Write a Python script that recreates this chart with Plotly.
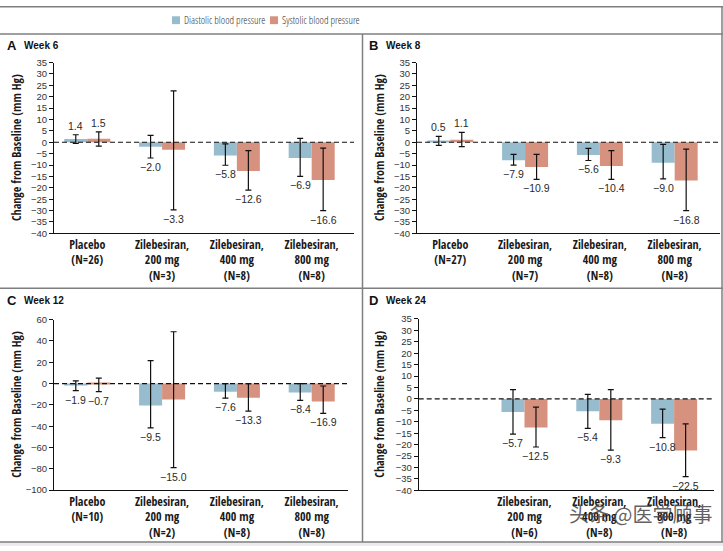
import plotly.graph_objects as go

# ---------------- data ----------------
cats = ["Placebo", "200 mg", "400 mg", "800 mg"]

a_ticks = ["Placebo<br>(N=26)", "Zilebesiran,<br>200 mg<br>(N=3)", "Zilebesiran,<br>400 mg<br>(N=8)", "Zilebesiran,<br>800 mg<br>(N=8)"]
a_dia = [1.4, -2.0, -5.8, -6.9]
a_sys = [1.5, -3.3, -12.6, -16.6]
a_dia_lo = [-0.5, -6.9, -10.1, -15.0]
a_dia_hi = [3.3, 3.0, -0.7, 1.7]
a_sys_lo = [-1.7, -29.7, -21.0, -30.0]
a_sys_hi = [4.6, 22.6, -3.7, -2.6]

b_ticks = ["Placebo<br>(N=27)", "Zilebesiran,<br>200 mg<br>(N=7)", "Zilebesiran,<br>400 mg<br>(N=8)", "Zilebesiran,<br>800 mg<br>(N=8)"]
b_dia = [0.5, -7.9, -5.6, -9.0]
b_sys = [1.1, -10.9, -10.4, -16.8]
b_dia_lo = [-1.4, -10.0, -8.0, -16.1]
b_dia_hi = [2.6, -5.3, -2.7, -0.9]
b_sys_lo = [-1.9, -16.3, -16.3, -30.0]
b_sys_hi = [4.3, -5.3, -3.7, -3.0]

c_ticks = ["Placebo<br>(N=10)", "Zilebesiran,<br>200 mg<br>(N=2)", "Zilebesiran,<br>400 mg<br>(N=8)", "Zilebesiran,<br>800 mg<br>(N=8)"]
c_dia = [-1.9, -20.7, -7.6, -8.4]          # bar heights as drawn
c_dia_text = ["−1.9", "−9.5", "−7.6", "−8.4"]  # printed labels
c_sys = [-0.7, -15.0, -13.3, -16.9]
c_dia_lo = [-6.6, -41.5, -13.6, -15.8]
c_dia_hi = [2.6, 21.6, 0.0, 0.0]
c_sys_lo = [-7.5, -78.9, -25.9, -28.0]
c_sys_hi = [5.1, 48.6, 0.0, -2.3]

d_ticks = ["", "Zilebesiran,<br>200 mg<br>(N=6)", "Zilebesiran,<br>400 mg<br>(N=8)", "Zilebesiran,<br>800 mg<br>(N=8)"]
d_dia = [None, -5.7, -5.4, -10.8]
d_sys = [None, -12.5, -9.3, -22.5]
d_dia_lo = [None, -15.4, -12.9, -16.9]
d_dia_hi = [None, 4.1, 2.0, -4.4]
d_sys_lo = [None, -21.0, -22.4, -34.0]
d_sys_hi = [None, -3.6, 4.1, -10.9]

# ---------------- style ----------------
W, H = 723, 551
BLUE = "#96bccd"
SALMON = "#d6917f"
FRAME = "#7f7f7f"
COND = "Open Sans Condensed, Liberation Sans, sans-serif"
LIGHT = "Open Sans Condensed Light, Liberation Sans, sans-serif"
SANS = "Liberation Sans, Arial, sans-serif"


def fx(x):
    return x / W


def fy(y):
    return 1 - y / H


def fmt(v):
    s = f"{abs(v):.1f}"
    return ("−" + s) if v < 0 else s


panels = [
    dict(letter="A", week="Week 6", ticks=a_ticks, dia=a_dia, sys=a_sys,
         dlo=a_dia_lo, dhi=a_dia_hi, slo=a_sys_lo, shi=a_sys_hi,
         dtext=[fmt(v) for v in a_dia], stext=[fmt(v) for v in a_sys],
         xd=(54, 354), yd=(57.7, 232), yr=(-40, 35), dt=5, xr=(-0.445, 3.566),
         lx=5, ly=40, tx=17),
    dict(letter="B", week="Week 8", ticks=b_ticks, dia=b_dia, sys=b_sys,
         dlo=b_dia_lo, dhi=b_dia_hi, slo=b_sys_lo, shi=b_sys_hi,
         dtext=[fmt(v) for v in b_dia], stext=[fmt(v) for v in b_sys],
         xd=(417, 720), yd=(57.7, 232), yr=(-40, 35), dt=5, xr=(-0.445, 3.606),
         lx=367, ly=40, tx=380),
    dict(letter="C", week="Week 12", ticks=c_ticks, dia=c_dia, sys=c_sys,
         dlo=c_dia_lo, dhi=c_dia_hi, slo=c_sys_lo, shi=c_sys_hi,
         dtext=c_dia_text, stext=[fmt(v) for v in c_sys],
         xd=(54, 348), yd=(320, 494), yr=(-100, 60), dt=20, xr=(-0.445, 3.485),
         lx=5, ly=301, tx=17),
    dict(letter="D", week="Week 24", ticks=d_ticks, dia=d_dia, sys=d_sys,
         dlo=d_dia_lo, dhi=d_dia_hi, slo=d_sys_lo, shi=d_sys_hi,
         dtext=[fmt(v) if v is not None else "" for v in d_dia],
         stext=[fmt(v) if v is not None else "" for v in d_sys],
         xd=(418.7, 714), yd=(319.3, 494.3), yr=(-40, 35), dt=5, xr=(-0.414, 3.533),
         lx=367, ly=301, tx=380),
]

fig = go.Figure()
annotations = []
shapes = []
layout = {}


def err(vals, lo, hi):
    plus, minus = [], []
    for v, l, h in zip(vals, lo, hi):
        if v is None:
            plus.append(None)
            minus.append(None)
        else:
            plus.append(h - v)
            minus.append(v - l)
    return plus, minus


for i, p in enumerate(panels):
    n = "" if i == 0 else str(i + 1)
    xa, ya = "x" + n, "y" + n
    for vals, lo, hi, col, texts, shift in (
        (p["dia"], p["dlo"], p["dhi"], BLUE, p["dtext"], -11.5),
        (p["sys"], p["slo"], p["shi"], SALMON, p["stext"], 11.5),
    ):
        plus, minus = err(vals, lo, hi)
        fig.add_trace(go.Bar(
            x=cats, y=vals, marker=dict(color=col, line=dict(width=0)),
            error_y=dict(type="data", symmetric=False, array=plus, arrayminus=minus,
                         width=3, thickness=1.2, color="#111111"),
            xaxis=xa, yaxis=ya, showlegend=False, hoverinfo="skip",
        ))
        for c, v, l, h, t in zip(cats, vals, lo, hi, texts):
            if v is None:
                continue
            up = v >= 0
            annotations.append(dict(x=c, y=h if up else l, xref=xa, yref=ya, text=t,
                                    showarrow=False, xshift=shift, yshift=1 if up else -1,
                                    yanchor="bottom" if up else "top",
                                    font=dict(family=SANS, size=10.5, color="#2a2a2a")))
    layout["xaxis" + n] = dict(
        domain=[fx(p["xd"][0]), fx(p["xd"][1])], anchor=ya, type="category",
        categoryorder="array", categoryarray=cats, range=list(p["xr"]),
        tickvals=cats, ticktext=p["ticks"], ticks="", showline=True,
        linecolor="#111111", linewidth=1, showgrid=False, zeroline=False,
        tickfont=dict(family=COND, size=12, color="#1a1a1a"), fixedrange=True,
    )
    layout["yaxis" + n] = dict(
        domain=[fy(p["yd"][1]), fy(p["yd"][0])], anchor=xa, range=list(p["yr"]),
        dtick=p["dt"], tick0=0, ticks="outside", ticklen=4, tickwidth=1,
        tickcolor="#111111", showline=True, linecolor="#111111", linewidth=1,
        showgrid=False, zeroline=False,
        tickfont=dict(family=SANS, size=9.5, color="#333333"), fixedrange=True,
    )
    shapes.append(dict(type="line", xref=xa + " domain", yref=ya, x0=0, x1=1, y0=0, y1=0,
                       line=dict(color="#111111", width=1.2, dash="5px,3px")))
    annotations.append(dict(x=fx(p["lx"]), y=fy(p["ly"]), xref="paper", yref="paper",
                            text="<b>" + p["letter"] + "</b>", showarrow=False,
                            xanchor="left", yanchor="middle",
                            font=dict(family=SANS, size=13, color="#111111")))
    annotations.append(dict(x=fx(p["lx"] + 17), y=fy(p["ly"]), xref="paper", yref="paper",
                            text="<b>" + p["week"] + "</b>", showarrow=False,
                            xanchor="left", yanchor="middle",
                            font=dict(family=SANS, size=10, color="#111111")))
    annotations.append(dict(x=fx(p["tx"]), y=fy((p["yd"][0] + p["yd"][1]) / 2),
                            xref="paper", yref="paper",
                            text="Change from Baseline (mm Hg)", showarrow=False,
                            textangle=-90, xanchor="center", yanchor="middle",
                            font=dict(family=COND, size=12, color="#1a1a1a")))

# legend (manual)
for x0, col, label in ((172, BLUE, "Diastolic blood pressure"), (270, SALMON, "Systolic blood pressure")):
    shapes.append(dict(type="rect", xref="paper", yref="paper", x0=fx(x0), x1=fx(x0 + 8),
                       y0=fy(18.5), y1=fy(10.5), fillcolor=col, line=dict(width=0)))
    annotations.append(dict(x=fx(x0 + 10), y=fy(14.5), xref="paper", yref="paper", text=label,
                            showarrow=False, xanchor="left", yanchor="middle",
                            font=dict(family=LIGHT, size=10.5, color="#2f2f2f")))

# watermark seen in the reference
annotations.append(dict(x=fx(640), y=fy(518), xref="paper", yref="paper", text="头条 @医学顾事",
                        showarrow=False, xanchor="center", yanchor="middle",
                        font=dict(family="Noto Sans CJK SC", size=20, color="rgba(70,70,70,0.85)")))

shapes += [
    dict(type="line", xref="paper", yref="paper", x0=0, x1=1, y0=fy(0.8), y1=fy(0.8),
         line=dict(color=FRAME, width=1.5)),
    dict(type="line", xref="paper", yref="paper", x0=0, x1=1, y0=fy(28.5), y1=fy(28.5),
         line=dict(color=FRAME, width=1.5)),
    dict(type="line", xref="paper", yref="paper", x0=0, x1=1, y0=fy(288), y1=fy(288),
         line=dict(color=FRAME, width=1.5)),
    dict(type="line", xref="paper", yref="paper", x0=fx(362.5), x1=fx(362.5), y0=fy(28.5), y1=fy(547),
         line=dict(color=FRAME, width=1.5)),
    dict(type="line", xref="paper", yref="paper", x0=fx(722), x1=fx(722), y0=fy(0), y1=fy(547),
         line=dict(color=FRAME, width=1.5)),
    dict(type="rect", xref="paper", yref="paper", x0=0, x1=1, y0=0, y1=fy(547),
         fillcolor="#ececec", line=dict(width=0)),
    dict(type="line", xref="paper", yref="paper", x0=0, x1=1, y0=fy(547), y1=fy(547),
         line=dict(color=FRAME, width=1.5)),
]

fig.update_layout(
    width=W, height=H, margin=dict(l=0, r=0, t=0, b=0),
    paper_bgcolor="white", plot_bgcolor="white",
    barmode="group", bargap=0.385, bargroupgap=0,
    showlegend=False, annotations=annotations, shapes=shapes,
    **layout,
)

fig.write_html("out.html")
